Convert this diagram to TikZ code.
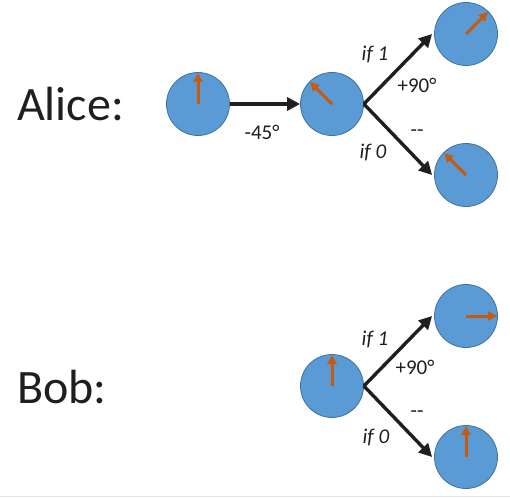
\documentclass[tikz,border=0pt]{standalone}
\usepackage{fontspec}
\setmainfont{Carlito}
\usetikzlibrary{arrows.meta}
\definecolor{qblue}{HTML}{5B9BD5}
\definecolor{qedge}{HTML}{41719C}
\definecolor{qorange}{HTML}{C55A11}
\definecolor{qdark}{HTML}{1F1F1F}
\tikzset{
  qubit/.style={circle,minimum size=63pt,inner sep=0pt,fill=qblue,draw=qedge,line width=0.8pt},
  pointer/.style={qorange,line width=3pt,-{Triangle[length=9pt,width=9pt]}},
  link/.style={qdark,line width=3.4pt,-{Triangle[length=13pt,width=13pt]}},
  who/.style={font=\fontsize{48}{48}\selectfont,text=qdark,inner sep=0pt},
  lbl/.style={font=\fontsize{21}{21}\selectfont,text=qdark,inner sep=0pt}
}
\begin{document}
\begin{tikzpicture}[x=1pt,y=-1pt]
\useasboundingbox (0,0) rectangle (510,497);
\draw[black!10,line width=0.8pt] (0,496)--(510,496);

\node[who,anchor=west] (alice) at (17,104) {Alice:};
\node[who,anchor=west] (bob) at (17,387) {Bob:};

% Alice
\node[qubit] (a1) at (198,104) {};
\node[qubit] (a2) at (332,104) {};
\node[qubit] (a3) at (466,34) {};
\node[qubit] (a4) at (466,175) {};
% Bob
\node[qubit] (b1) at (332,386) {};
\node[qubit] (b2) at (466,316) {};
\node[qubit] (b3) at (466,457) {};

\foreach \q/\ang in {a1/90,a2/135,a3/45,a4/135,b1/90,b2/0,b3/90}{
\draw[pointer] (\q.center) -- ++(-\ang:31);
}

\draw[link] (a1.east) -- (a2.west);
\draw[link] (a2.east) -- ([xshift=-2pt]a3.west);
\draw[link] (a2.east) -- ([xshift=-2pt]a4.west);
\draw[link] (b1.east) -- ([xshift=-2pt]b2.west);
\draw[link] (b1.east) -- ([xshift=-2pt]b3.west);

\node[lbl] (rotA) at (262,132) {-45°};
\node[lbl] (ifA1) at (375,55) {\textit{if 1}};
\node[lbl] (plusA) at (417,85) {+90°};
\node[lbl] (noneA) at (417,133) {{-}{-}};
\node[lbl] (ifA0) at (373,153) {\textit{if 0}};

\node[lbl] (ifB1) at (375,340) {\textit{if 1}};
\node[lbl] (plusB) at (415,367) {+90°};
\node[lbl] (noneB) at (417,414) {{-}{-}};
\node[lbl] (ifB0) at (376,437) {\textit{if 0}};
\end{tikzpicture}
\end{document}
